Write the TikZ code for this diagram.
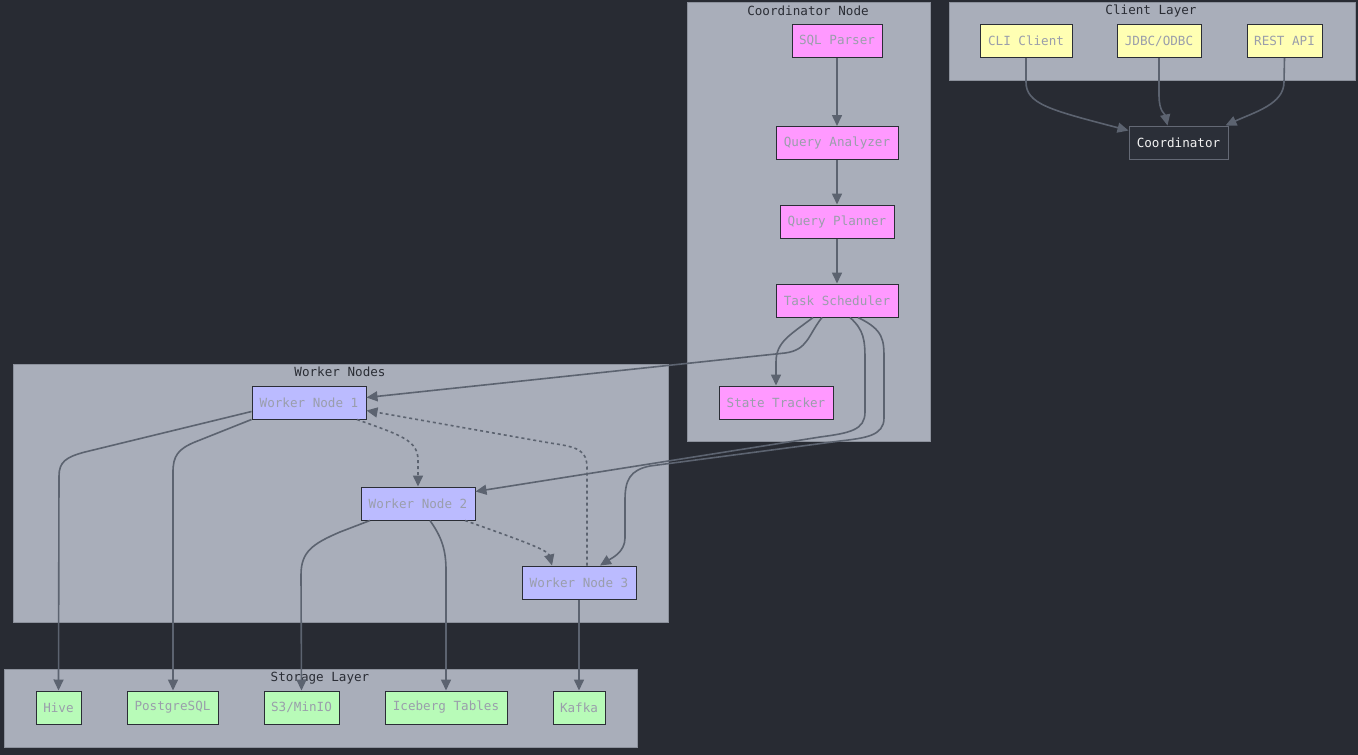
\documentclass[tikz,border=0pt]{standalone}
\usepackage{fontspec}
\setmonofont{DejaVu Sans Mono}
\usetikzlibrary{arrows.meta}
\definecolor{bg}{HTML}{282B33}
\definecolor{clfill}{HTML}{A9AEBA}
\definecolor{clline}{HTML}{8C919C}
\definecolor{pinkf}{HTML}{FF99FF}
\definecolor{yelf}{HTML}{FFFFB3}
\definecolor{bluef}{HTML}{BBBBFF}
\definecolor{greenf}{HTML}{B8FBB8}
\definecolor{ntext}{HTML}{9A9EAB}
\definecolor{edge}{HTML}{5C6370}
\definecolor{ttext}{HTML}{2A2D35}
\definecolor{coordf}{HTML}{2B2F38}
\definecolor{coordl}{HTML}{646975}
\tikzset{
  cluster/.style={draw=clline, fill=clfill, line width=0.8pt},
  ctitle/.style={text=ttext, font=\ttfamily\fontsize{12.6}{14}\selectfont, inner sep=0pt},
  box/.style={draw=ttext, line width=1pt, inner sep=0pt, minimum height=33pt, text=ntext, font=\ttfamily\fontsize{12.6}{14}\selectfont},
  pinkbox/.style={box, fill=pinkf},
  yelbox/.style={box, fill=yelf},
  bluebox/.style={box, fill=bluef},
  greenbox/.style={box, fill=greenf},
  link/.style={draw=edge, line width=1.6pt, -{Triangle[length=11pt,width=10pt]}},
  dlink/.style={link, dash pattern=on 3pt off 3pt},
}
\begin{document}
\begin{tikzpicture}[x=1pt,y=-1pt]
\fill[bg] (0,0) rectangle (1358,755);
\useasboundingbox (0,0) rectangle (1358,755);
% clusters
\draw[cluster] (687,2) rectangle (930,441);
\node[ctitle] (tcoord) at (808,11) {Coordinator Node};
\draw[cluster] (949,2) rectangle (1355,80);
\node[ctitle] (tclient) at (1151,11) {Client Layer};
\draw[cluster] (13,364) rectangle (668,622);
\node[ctitle] (tworker) at (340,372) {Worker Nodes};
\draw[cluster] (4,669) rectangle (637,747);
\node[ctitle] (tstorage) at (320,678) {Storage Layer};
% coordinator nodes
\node[pinkbox, minimum width=90pt] (sqlp) at (837,41) {SQL Parser};
\node[pinkbox, minimum width=122pt] (qa) at (837,143) {Query Analyzer};
\node[pinkbox, minimum width=114pt] (qp) at (837,221.5) {Query Planner};
\node[pinkbox, minimum width=122pt] (ts) at (837,300.5) {Task Scheduler};
\node[pinkbox, minimum width=114pt] (st) at (776,402.5) {State Tracker};
% client
\node[yelbox, minimum width=92pt] (cli) at (1026,41) {CLI Client};
\node[yelbox, minimum width=84pt] (jdbc) at (1159,41) {JDBC/ODBC};
\node[yelbox, minimum width=75pt] (rest) at (1284.5,41) {REST API};
\node[draw=coordl, fill=coordf, line width=1pt, inner sep=0pt, minimum width=99pt, minimum height=33pt, text=white!90!gray, font=\ttfamily\fontsize{12.6}{14}\selectfont] (coord) at (1178.5,142.5) {Coordinator};
% workers
\node[bluebox, minimum width=114pt] (wn1) at (309,402.5) {Worker Node 1};
\node[bluebox, minimum width=114pt] (wn2) at (418,503.5) {Worker Node 2};
\node[bluebox, minimum width=114pt] (wn3) at (579,582.5) {Worker Node 3};
% storage
\node[greenbox, minimum width=45pt] (hive) at (58.5,707.5) {Hive};
\node[greenbox, minimum width=91pt] (pg) at (172.5,707.5) {PostgreSQL};
\node[greenbox, minimum width=75pt] (s3) at (301.5,707.5) {S3/MinIO};
\node[greenbox, minimum width=122pt] (ice) at (446,707.5) {Iceberg Tables};
\node[greenbox, minimum width=52pt] (kafka) at (579,707.5) {Kafka};
% coordinator chain
\draw[link] (sqlp) -- (qa);
\draw[link] (qa) -- (qp);
\draw[link] (qp) -- (ts);
\draw[link] ([xshift=-24pt]ts.south) .. controls (790,335) and (776,342) .. (776,362) -- (st.north);
\draw[link] ([xshift=-15pt]ts.south) .. controls (808,335) and (808,350) .. (785,353) -- ([yshift=5pt]wn1.east);
\draw[link] ([xshift=13pt]ts.south) .. controls (864,330) and (865,340) .. (865,360) -- (865,412) .. controls (865,430) and (850,433) .. (820,437) -- ([yshift=12pt]wn2.east);
\draw[link] ([xshift=21pt]ts.south) .. controls (884,330) and (884,340) .. (884,360) -- (884,418) .. controls (884,436) and (865,438) .. (840,441) -- (650,466) .. controls (630,470) and (625,480) .. (625,500) -- (625,538) .. controls (625,552) and (612,558) .. ([xshift=21pt]wn3.north);
% worker dashed
\draw[dlink] ([xshift=48pt]wn1.south) .. controls (400,435) and (418,440) .. (418,460) -- (wn2.north);
\draw[dlink] ([xshift=47pt]wn2.south) .. controls (520,540) and (548,550) .. ([xshift=-27pt]wn3.north);
\draw[dlink] ([xshift=8pt]wn3.north) -- (587,468) .. controls (587,450) and (578,447) .. (550,443) -- ([yshift=-8pt]wn1.east);
% worker to storage
\draw[link] ([yshift=-9pt]wn1.west) -- (85,452) .. controls (66,457) and (59,462) .. (59,476) -- (hive.north);
\draw[link] (wn1.south west) -- (195,442) .. controls (178,449) and (173,456) .. (173,472) -- ([xshift=0.5pt]pg.north);
\draw[link] ([xshift=-48pt]wn2.south) -- (340,532) .. controls (312,544) and (301,552) .. (301,575) -- (s3.north);
\draw[link] ([xshift=12pt]wn2.south) .. controls (440,535) and (446,547) .. (446,570) -- (ice.north);
\draw[link] (wn3) -- (kafka);
% clients
\draw[link] (cli.south) -- (1026,82) .. controls (1026,104) and (1050,110) .. ([yshift=12pt]coord.west);
\draw[link] (jdbc.south) -- (1159,95) .. controls (1159,112) and (1165,114) .. ([xshift=-11pt]coord.north);
\draw[link] (rest.south) -- (1284,82) .. controls (1284,104) and (1255,112) .. ([xshift=47pt]coord.north);
\end{tikzpicture}
\end{document}
